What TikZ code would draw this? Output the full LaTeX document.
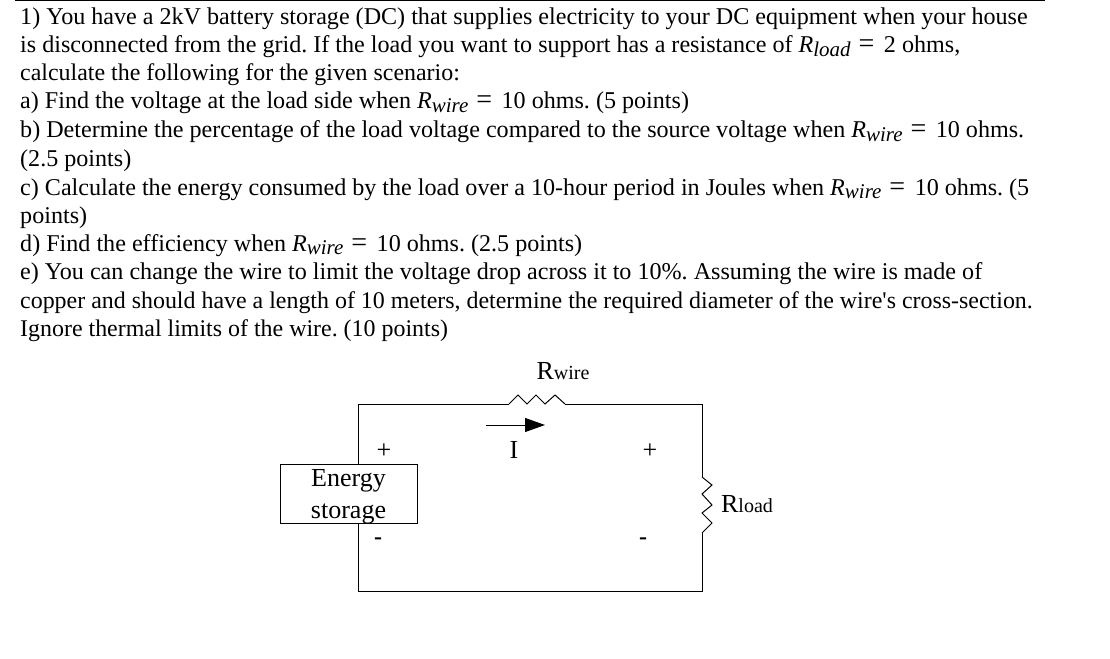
\documentclass[tikz,border=0pt]{standalone}
\usepackage{fontspec}
\setmainfont{Liberation Serif}[Ligatures=TeXOff]
\usetikzlibrary{arrows.meta,positioning}
\newcommand{\Rsub}[1]{\textit{R}\raisebox{-0.36ex}{\fontsize{21}{21}\selectfont\textit{#1}}\kern8pt{\fontsize{28}{28}\selectfont=}\kern9.5pt}
\begin{document}
\frenchspacing
\begin{tikzpicture}[x=1pt,y=-1pt,
    line/.style = {anchor=base west, inner sep=0pt, font=\fontsize{24.1}{28}\selectfont},
    narrow/.style = {line, font=\fontsize{23.92}{28}\selectfont},
    wire/.style = {line width=1pt, line join=miter},
    big/.style = {inner sep=0pt, anchor=base, font=\fontsize{26}{30}\selectfont},
    minus/.style = {inner sep=0pt, font=\fontsize{24}{24}\selectfont\bfseries}]
                  \useasboundingbox (0,0) rectangle (1110,658);
                  \coordinate (rulea) at (15,0.6);
                  \coordinate (ruleb) at (1045,0.6);
                  \draw[line width=1.2pt] (rulea) -- (ruleb);
                  \node[line] (l1) at (20,25) {1) You have a 2kV battery storage (DC) that supplies electricity to your DC equipment when your house};
                  \node[line] (l2) at (20,53) {is disconnected from the grid. If the load you want to support has a resistance of \Rsub{load}2 ohms,};
                  \node[narrow] (l3) at (20,81) {calculate the following for the given scenario:};
                  \node[line] (l4) at (20,109) {a) Find the voltage at the load side when \Rsub{wire}10 ohms. (5 points)};
                  \node[line] (l5) at (20,138) {b) Determine the percentage of the load voltage compared to the source voltage when \Rsub{wire}10 ohms.};
                  \node[line] (l6) at (20,166) {(2.5 points)};
                  \node[line] (l7) at (20,195) {c) Calculate the energy consumed by the load over a 10-hour period in Joules when \Rsub{wire}10 ohms. (5};
                  \node[line] (l8) at (20,223) {points)};
                  \node[line] (l9) at (20,251) {d) Find the efficiency when \Rsub{wire}10 ohms. (2.5 points)};
                  \node[line] (l10) at (20,279) {e) You can change the wire to limit the voltage drop across it to 10\%. Assuming the wire is made of};
                  \node[narrow] (l11) at (20,308) {copper and should have a length of 10 meters, determine the required diameter of the wire's cross-section.};
                  \node[narrow] (l12) at (20,336) {Ignore thermal limits of the wire. (10 points)};
                  % circuit
                  \node[draw, wire, minimum width=137pt, minimum height=59pt, inner sep=0pt] (box) at (348.5,493.5) {};
                  \node[big] (energy) at (348.5,486) {Energy};
                  \node[big] (storage) at (348.5,518) {storage};
                  \coordinate (tl) at (358.5,404);
                  \coordinate (bl) at (358.5,591);
                  \coordinate (br) at (702,591);
                  \coordinate (tr) at (702,404);
                  \coordinate (wirea) at (509,404);
                  \coordinate (wireb) at (565,404);
                  \coordinate (loada) at (702,477);
                  \coordinate (loadb) at (702,533);
                  \draw[wire] (box.north -| tl) -- (tl) -- (wirea);
                  \draw[wire] (box.south -| bl) -- (bl) -- (br) -- (loadb);
                  \draw[wire] (wireb) -- (tr) -- (loada);
                  \draw[wire] (wirea) -- ++(9,-9) -- ++(9,9) -- ++(9,-9) -- ++(9,9) -- ++(10,-9) -- (wireb);
                  \draw[wire] (loada) -- ++(10,8) -- ++(-10,9) -- ++(10,11) -- ++(-10,8) -- ++(10,10) -- (loadb);
                  \coordinate (arra) at (486,425);
                  \coordinate (arrb) at (545,425);
                  \draw[wire, -{Triangle[length=20pt,width=14pt]}] (arra) -- (arrb);
                  \node[big] (cur) at (514,458) {I};
                  \node[big] (pa) at (384,458) {+};
                  \node[minus] (ma) at (378,541) {-};
                  \node[big] (pb) at (650,458) {+};
                  \node[minus] (mb) at (643,541) {-};
                  \node[big] (rw) at (563,379) {R\fontsize{20}{20}\selectfont wire};
                  \node[big] (rl) at (747,512) {R\fontsize{20}{20}\selectfont load};
              \end{tikzpicture}
\end{document}
